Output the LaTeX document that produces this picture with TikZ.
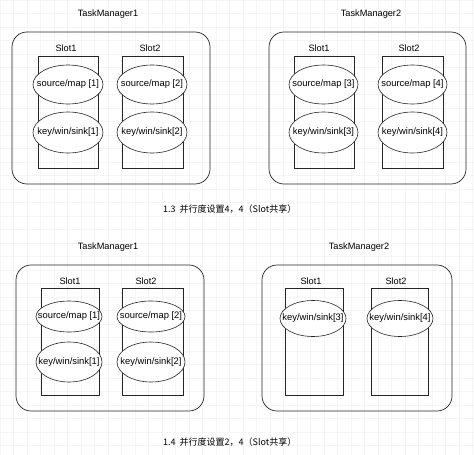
\documentclass[tikz,border=0pt]{standalone}
\usepackage{fontspec}
\setmainfont{Liberation Sans}
\newfontfamily\cjk{Noto Sans CJK SC}
\usetikzlibrary{shapes.geometric}
\newcommand{\tasktxt}[1]{\makebox[0pt]{#1}}
\begin{document}
\begin{tikzpicture}[x=1pt,y=-1pt,
  tmbox/.style={draw=black!85, line width=0.7pt, rounded corners=15pt},
  slotbox/.style={draw=black!85, line width=0.6pt},
  task/.style={ellipse, draw=black!85, line width=0.6pt, fill=white, inner sep=0pt, font=\fontsize{9.4}{11}\selectfont},
  lbl/.style={font=\fontsize{9.2}{11}\selectfont, inner sep=0pt},
  captxt/.style={font=\cjk\fontsize{9}{11}\selectfont, inner sep=0pt, anchor=west}]
\useasboundingbox (0,0) rectangle (474,455);
\fill[white] (0,0) rectangle (474,455);
\draw[black!4, line width=0.3pt, step=13.5pt] (0,0) grid (474,455);

% ---------- Top: 1.3 ----------
\node[lbl] (t1) at (108,14) {TaskManager1};
\draw[tmbox] (12,32) rectangle (210,184);
\node[lbl] (s11) at (66,48) {Slot1};
\node[lbl] (s12) at (150,48) {Slot2};
\draw[slotbox] (38,56) rectangle (98,168);
\draw[slotbox] (122,56) rectangle (183,168);
\node[task, minimum width=70pt, minimum height=39pt] (a1) at (68,84.5) {\tasktxt{source/map [1]}};
\node[task, minimum width=70pt, minimum height=41pt] (b1) at (68,132.5) {\tasktxt{key/win/sink[1]}};
\node[task, minimum width=70pt, minimum height=39pt] (a2) at (152,84.5) {\tasktxt{source/map [2]}};
\node[task, minimum width=70pt, minimum height=41pt] (b2) at (152,132.5) {\tasktxt{key/win/sink[2]}};

\node[lbl] (t2) at (371,14) {TaskManager2};
\draw[tmbox] (269,32) rectangle (466,184);
\node[lbl] (s21) at (319,48) {Slot1};
\node[lbl] (s22) at (409,48) {Slot2};
\draw[slotbox] (294,56) rectangle (354,168);
\draw[slotbox] (382,56) rectangle (443,168);
\node[task, minimum width=69pt, minimum height=39pt] (a3) at (323.5,84.5) {\tasktxt{source/map [3]}};
\node[task, minimum width=69pt, minimum height=41pt] (b3) at (323.5,132.5) {\tasktxt{key/win/sink[3]}};
\node[task, minimum width=69pt, minimum height=39pt] (a4) at (412.5,84.5) {\tasktxt{source/map [4]}};
\node[task, minimum width=69pt, minimum height=41pt] (b4) at (412.5,132.5) {\tasktxt{key/win/sink[4]}};

\node[captxt] (c1) at (163,209) {1.3\ \ 并行度设置4，4（Slot共享）};

% ---------- Bottom: 1.4 ----------
\node[lbl] (t3) at (108,247) {TaskManager1};
\draw[tmbox] (16,265) rectangle (204,411);
\node[lbl] (s31) at (70,281) {Slot1};
\node[lbl] (s32) at (146,281) {Slot2};
\draw[slotbox] (41,288) rectangle (99,395);
\draw[slotbox] (122,288) rectangle (183,395);
\node[task, minimum width=66pt, minimum height=31pt] (a5) at (69,316.5) {\tasktxt{source/map [1]}};
\node[task, minimum width=66pt, minimum height=40pt] (b5) at (69,362) {\tasktxt{key/win/sink[1]}};
\node[task, minimum width=68pt, minimum height=31pt] (a6) at (151,316.5) {\tasktxt{source/map [2]}};
\node[task, minimum width=68pt, minimum height=40pt] (b6) at (151,362) {\tasktxt{key/win/sink[2]}};

\node[lbl] (t4) at (359,247) {TaskManager2};
\draw[tmbox] (262,265) rectangle (452,411);
\node[lbl] (s41) at (311,281) {Slot1};
\node[lbl] (s42) at (396,281) {Slot2};
\draw[slotbox] (285,288) rectangle (343,395);
\draw[slotbox] (371,288) rectangle (428,395);
\node[task, minimum width=66pt, minimum height=36pt] (b7) at (313,318.5) {\tasktxt{key/win/sink[3]}};
\node[task, minimum width=66pt, minimum height=36pt] (b8) at (400,318.5) {\tasktxt{key/win/sink[4]}};

\node[captxt] (c2) at (163,442) {1.4\ \ 并行度设置2，4（Slot共享）};
\end{tikzpicture}
\end{document}
